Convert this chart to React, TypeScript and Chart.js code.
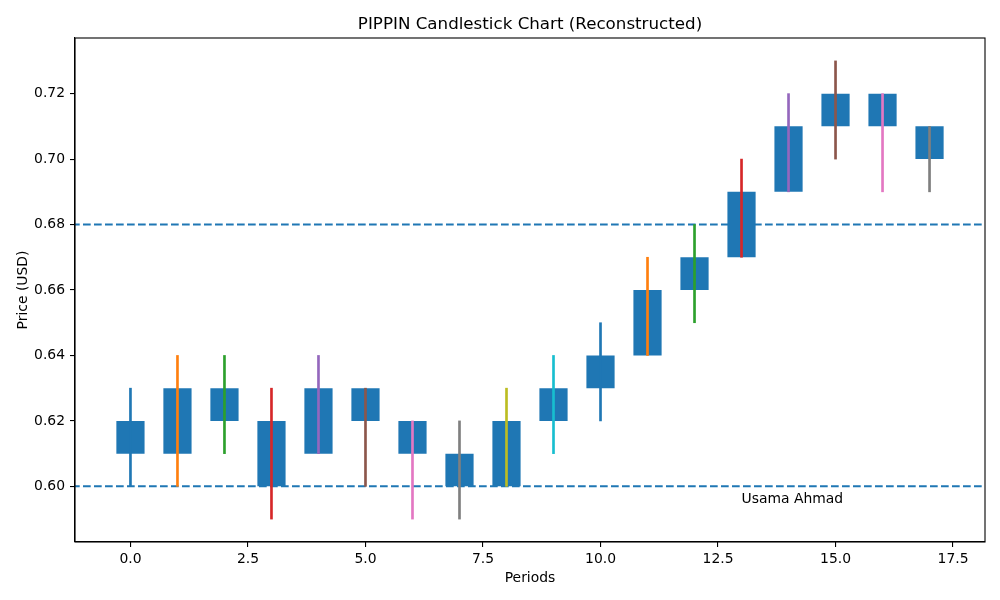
import React, { useEffect, useRef } from "react";
import { Chart, registerables } from "chart.js";

Chart.register(...registerables);

const periods = [0, 1, 2, 3, 4, 5, 6, 7, 8, 9, 10, 11, 12, 13, 14, 15, 16, 17];
const opens = [0.61, 0.61, 0.62, 0.62, 0.61, 0.63, 0.62, 0.61, 0.60, 0.62, 0.63, 0.64, 0.66, 0.67, 0.69, 0.71, 0.72, 0.71];
const closes = [0.62, 0.63, 0.63, 0.60, 0.63, 0.62, 0.61, 0.60, 0.62, 0.63, 0.64, 0.66, 0.67, 0.69, 0.71, 0.72, 0.71, 0.70];
const highs = [0.63, 0.64, 0.64, 0.63, 0.64, 0.63, 0.62, 0.62, 0.63, 0.64, 0.65, 0.67, 0.68, 0.70, 0.72, 0.73, 0.72, 0.71];
const lows = [0.60, 0.60, 0.61, 0.59, 0.61, 0.60, 0.59, 0.59, 0.60, 0.61, 0.62, 0.64, 0.65, 0.67, 0.69, 0.70, 0.69, 0.69];
const wickColors = ["#1f77b4", "#ff7f0e", "#2ca02c", "#d62728", "#9467bd", "#8c564b", "#e377c2", "#7f7f7f", "#bcbd22", "#17becf"];
const refLines = [0.68, 0.60];
const xTicks = [0, 2.5, 5, 7.5, 10, 12.5, 15, 17.5];
const yTicks = [0.60, 0.62, 0.64, 0.66, 0.68, 0.70, 0.72];
const title = "PIPPIN Candlestick Chart (Reconstructed)";
const xLabel = "Periods";
const yLabel = "Price (USD)";
const note = { text: "Usama Ahmad", x: 13, y: 0.595 };

const FONT = "'DejaVu Sans', sans-serif";
const BLUE = "#1f77b4";

export default function App() {
  const ref = useRef<HTMLCanvasElement | null>(null);
  useEffect(() => {
    if (!ref.current) return;
    const xMin = -0.3 - 0.88, xMax = 17.3 + 0.88;
    const yMin = 0.59 - 0.007, yMax = 0.73 + 0.007;

    const decorPlugin = {
      id: "decor",
      afterDatasetsDraw(chart: any) {
        const { ctx, chartArea, scales } = chart;
        const x = scales.x, y = scales.y;
        ctx.save();
        // note text
        ctx.fillStyle = "#000";
        ctx.font = `13.9px ${FONT}`;
        ctx.textAlign = "left";
        ctx.textBaseline = "alphabetic";
        ctx.fillText(note.text, x.getPixelForValue(note.x), y.getPixelForValue(note.y));
        // frame
        ctx.strokeStyle = "#000";
        ctx.lineWidth = 1.1;
        ctx.strokeRect(chartArea.left, chartArea.top, chartArea.right - chartArea.left, chartArea.bottom - chartArea.top);
        // title
        ctx.font = `16.7px ${FONT}`;
        ctx.textAlign = "center";
        ctx.fillText(title, (chartArea.left + chartArea.right) / 2, 29);
        // axis titles
        ctx.font = `13.9px ${FONT}`;
        ctx.fillText(xLabel, (chartArea.left + chartArea.right) / 2, 582);
        ctx.translate(27, (chartArea.top + chartArea.bottom) / 2);
        ctx.rotate(-Math.PI / 2);
        ctx.textBaseline = "alphabetic";
        ctx.fillText(yLabel, 0, 0);
        ctx.restore();
      },
    };

    const chart = new Chart(ref.current, {
      type: "bar",
      data: {
        datasets: [
          {
            type: "bar",
            label: "wicks",
            data: periods.map((p, i) => ({ x: p, y: [lows[i], highs[i]] })) as any,
            backgroundColor: periods.map((_, i) => wickColors[i % wickColors.length]),
            barThickness: 2,
            grouped: false,
            order: 0,
          } as any,
          {
            type: "bar",
            label: "body",
            data: periods.map((p, i) => ({ x: p, y: [opens[i], closes[i]] })) as any,
            backgroundColor: BLUE,
            barPercentage: 0.6,
            categoryPercentage: 1,
            grouped: false,
            order: 1,
          } as any,
          ...refLines.map((v) => ({
            type: "line",
            label: "ref" + v,
            data: [{ x: xMin - 1, y: v }, { x: xMax + 1, y: v }],
            borderColor: BLUE,
            borderWidth: 2,
            borderDash: [7.7, 3.3],
            pointRadius: 0,
            fill: false,
            order: 2,
          } as any)),
        ],
      },
      options: {
        responsive: false,
        animation: false,
        layout: { padding: { top: 38, right: 15, left: 0, bottom: 0 } },
        plugins: { legend: { display: false }, title: { display: false }, tooltip: { enabled: false } },
        scales: {
          x: {
            type: "linear",
            min: xMin,
            max: xMax,
            offset: false,
            afterFit: (s: any) => { s.height = 58; },
            afterBuildTicks: (s: any) => { s.ticks = xTicks.map((v) => ({ value: v })); },
            grid: { offset: false, drawOnChartArea: false, drawTicks: true, tickLength: 5, color: "#000", lineWidth: 1.1 },
            border: { display: true, color: "#000", width: 1.1 },
            ticks: {
              autoSkip: false,
              maxRotation: 0,
              padding: 4,
              color: "#000",
              font: { family: FONT, size: 13.9 },
              callback: (v: any) => Number(v).toFixed(1),
            },
          },
          y: {
            type: "linear",
            min: yMin,
            max: yMax,
            beginAtZero: false,
            afterFit: (s: any) => { s.width = 75; },
            afterBuildTicks: (s: any) => { s.ticks = yTicks.map((v) => ({ value: v })); },
            grid: { drawOnChartArea: false, drawTicks: true, tickLength: 5, color: "#000", lineWidth: 1.1 },
            border: { display: true, color: "#000", width: 1.1 },
            ticks: {
              padding: 5,
              color: "#000",
              font: { family: FONT, size: 13.9 },
              callback: (v: any) => Number(v).toFixed(2),
            },
          },
        },
      } as any,
      plugins: [decorPlugin],
    });
    return () => chart.destroy();
  }, []);

  return (
    <div style={{ position: "fixed", left: 0, top: 0, width: 1000, height: 600, background: "#fff" }}>
      <canvas ref={ref} width={1000} height={600} style={{ width: 1000, height: 600 }} />
    </div>
  );
}
